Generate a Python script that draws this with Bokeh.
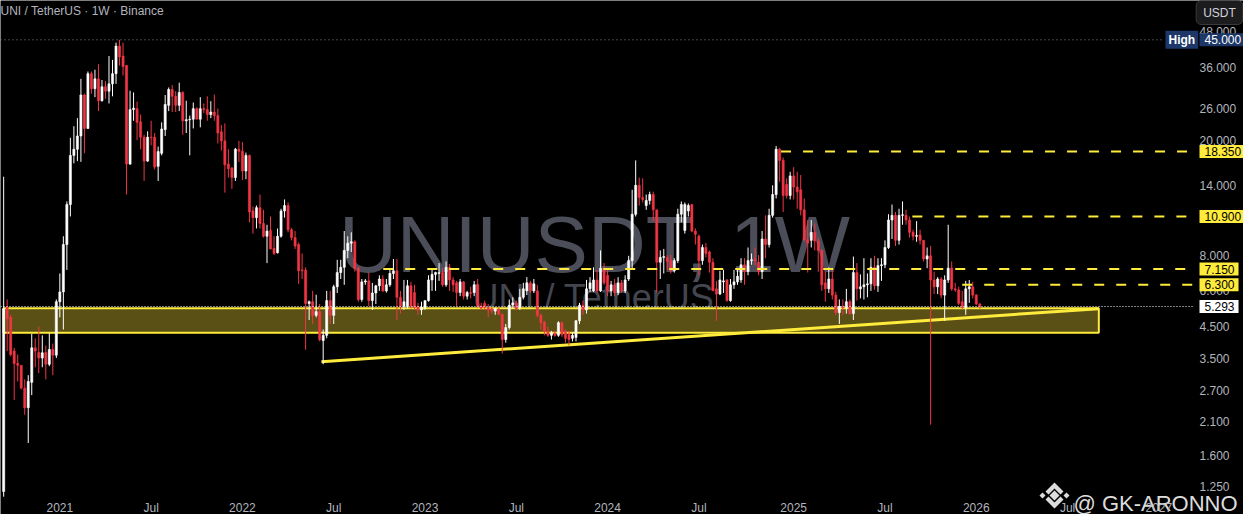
import math
from bokeh.plotting import figure
from bokeh.models import ColumnDataSource, Label, Range1d
from bokeh.embed import file_html
from bokeh.resources import INLINE
from bokeh.core.properties import value

# ---------------- data (weekly UNI/USDT, first bar = week of 2020-09-14) ----------------
open_ = [1.2, 5.25, 4.85, 3.7, 3.35, 3.3, 2.75, 2.35, 2.88, 3.8,
         3.66, 3.5, 3.66, 3.33, 3.75, 3.58, 5.5, 5.95, 8.7, 12.0,
         17.8, 18.7, 20.8, 28.9, 22.1, 34.3, 30.4, 32.9, 27.6, 30.9,
         29.8, 31.6, 34.3, 42.8, 39.5, 36.6, 16.6, 25.7, 25.9, 23.3,
         20.6, 17.0, 20.6, 20.6, 16.3, 18.1, 21.9, 26.6, 30.2, 28.6,
         26.6, 29.5, 23.5, 23.7, 23.8, 25.9, 23.8, 25.9, 25.7, 24.7,
         25.2, 24.5, 21.5, 20.0, 16.6, 16.1, 14.9, 18.7, 18.4, 15.7,
         17.8, 11.4, 10.8, 11.7, 10.3, 9.3, 9.75, 8.45, 8.15, 9.3,
         11.4, 11.9, 9.8, 9.2, 8.7, 7.1, 7.08, 5.42, 5.5, 4.93,
         5.08, 4.03, 4.2, 5.55, 4.93, 6.2, 6.95, 7.25, 8.3, 8.8,
         8.9, 7.2, 5.6, 6.45, 6.5, 5.55, 5.9, 6.25, 6.6, 6.0,
         6.3, 6.9, 7.05, 5.7, 5.3, 5.3, 6.25, 5.92, 5.3, 5.15,
         5.25, 5.55, 6.55, 6.85, 6.9, 6.95, 6.3, 7.25, 6.55, 6.4,
         5.92, 6.45, 5.75, 5.92, 5.92, 6.3, 5.3, 5.43, 5.25, 5.2,
         5.1, 5.18, 4.97, 4.06, 4.47, 5.35, 5.45, 5.25, 5.7, 6.0,
         6.4, 6.0, 6.0, 4.93, 4.67, 4.35, 4.2, 4.28, 4.2, 4.65,
         4.35, 4.23, 4.1, 4.13, 4.72, 5.35, 5.15, 6.1, 6.0, 6.55,
         6.0, 7.2, 6.8, 6.0, 6.3, 5.92, 6.4, 6.0, 6.6, 7.65,
         11.1, 14.0, 12.7, 11.9, 12.4, 13.0, 11.5, 7.55, 7.85, 7.85,
         7.65, 7.05, 7.65, 11.1, 9.75, 11.4, 12.0, 9.7, 9.3, 7.65,
         8.5, 8.2, 7.55, 6.1, 5.85, 6.45, 6.55, 5.55, 6.3, 6.45,
         6.55, 7.4, 7.0, 7.65, 7.75, 7.55, 7.0, 9.1, 8.7, 11.0,
         13.0, 18.7, 17.1, 14.1, 12.9, 15.1, 13.8, 13.5, 11.5, 9.05,
         9.0, 9.6, 8.95, 8.3, 6.4, 6.1, 6.6, 5.8, 5.04, 5.3,
         5.25, 5.5, 5.0, 6.95, 6.1, 6.2, 6.3, 6.35, 7.25, 6.25,
         7.35, 7.4, 8.5, 10.6, 11.0, 9.0, 11.0, 11.0, 10.6, 9.6,
         9.3, 9.4, 9.0, 7.75, 7.95, 6.55, 6.2, 6.6, 5.8, 6.55,
         7.2, 6.1, 6.05, 5.5, 5.25, 6.1, 6.2, 5.8, 5.4]

high = [15.0, 5.6, 4.95, 3.8, 3.6, 3.3, 2.95, 3.05, 4.25, 4.1,
        4.5, 4.2, 3.87, 4.27, 3.93, 5.6, 6.9, 9.3, 12.3, 20.5,
        22.5, 24.0, 32.9, 29.2, 34.9, 34.9, 35.4, 37.0, 32.6, 32.3,
        39.5, 38.3, 44.0, 45.0, 44.0, 36.8, 29.9, 29.5, 27.4, 24.7,
        21.0, 21.6, 23.5, 21.3, 19.1, 23.2, 28.9, 30.7, 31.3, 29.8,
        31.9, 29.8, 27.6, 24.5, 27.2, 26.2, 28.4, 27.0, 28.6, 27.5,
        29.0, 25.9, 22.7, 23.0, 18.7, 16.2, 18.9, 20.0, 19.8, 18.2,
        17.9, 11.8, 11.9, 13.0, 11.5, 10.2, 10.9, 9.3, 9.9, 11.6,
        12.5, 12.2, 9.95, 9.7, 8.84, 8.1, 7.25, 5.55, 6.0, 5.82,
        5.4, 4.4, 6.0, 6.0, 6.3, 7.7, 7.7, 9.7, 9.3, 9.6,
        9.0, 7.3, 6.6, 6.6, 6.95, 6.4, 6.3, 6.8, 6.8, 6.6,
        7.1, 7.75, 7.75, 6.0, 6.55, 6.55, 6.45, 6.3, 5.45, 5.5,
        5.55, 6.8, 7.2, 7.0, 7.5, 7.2, 7.6, 7.45, 6.7, 6.5,
        6.6, 6.5, 6.0, 6.2, 6.5, 6.6, 5.45, 5.55, 5.4, 5.25,
        5.25, 5.25, 5.0, 4.6, 5.6, 5.7, 5.55, 6.1, 6.4, 6.7,
        6.5, 6.6, 6.3, 5.0, 4.72, 4.5, 4.35, 4.35, 4.7, 4.7,
        4.4, 4.35, 4.3, 4.75, 5.45, 5.55, 6.55, 6.7, 7.25, 7.1,
        8.3, 7.5, 7.2, 6.5, 6.6, 6.7, 6.55, 6.8, 7.95, 13.5,
        17.1, 14.9, 14.8, 13.0, 13.3, 13.3, 11.5, 8.3, 8.4, 8.0,
        8.0, 7.8, 11.6, 12.3, 12.2, 12.1, 12.0, 9.9, 9.45, 8.7,
        8.8, 8.3, 7.8, 6.5, 7.05, 7.1, 6.6, 6.6, 7.1, 7.2,
        7.8, 7.8, 8.5, 8.1, 8.5, 8.0, 9.7, 11.0, 11.6, 14.0,
        19.2, 18.9, 17.5, 14.8, 15.6, 16.2, 15.6, 15.2, 12.6, 10.6,
        10.6, 10.3, 9.2, 8.4, 7.0, 7.25, 7.1, 5.95, 5.6, 5.6,
        6.1, 5.6, 7.9, 7.5, 6.85, 7.8, 6.9, 7.8, 7.95, 7.8,
        7.8, 9.0, 11.1, 12.0, 11.3, 11.6, 12.3, 11.5, 10.9, 9.8,
        10.5, 9.8, 9.0, 8.5, 8.6, 7.0, 6.7, 6.7, 6.8, 10.2,
        7.6, 6.4, 6.2, 6.0, 6.5, 6.55, 6.45, 5.85, 5.45]

low = [1.15, 3.7, 3.55, 2.5, 2.9, 2.72, 2.22, 1.77, 2.6, 3.25,
       3.1, 3.25, 2.95, 3.28, 3.05, 3.5, 4.85, 4.4, 7.1, 10.9,
       16.7, 17.0, 16.9, 18.1, 22.0, 29.2, 28.4, 25.4, 27.4, 28.0,
       27.0, 28.6, 31.6, 36.6, 33.8, 13.0, 16.5, 23.5, 20.1, 18.7,
       14.5, 16.9, 19.3, 15.9, 14.5, 17.8, 20.8, 25.4, 25.2, 25.2,
       25.4, 21.0, 21.3, 17.8, 22.1, 23.8, 22.3, 25.0, 23.5, 24.0,
       23.5, 19.6, 18.5, 13.2, 14.9, 13.6, 14.5, 16.9, 14.6, 14.7,
       10.4, 9.5, 9.9, 9.9, 9.2, 7.5, 8.4, 8.0, 8.1, 9.2,
       10.8, 9.6, 9.0, 8.4, 6.35, 6.6, 3.74, 4.75, 4.6, 4.85,
       4.0, 3.33, 4.1, 4.6, 4.6, 5.9, 6.6, 6.3, 7.8, 8.2,
       7.0, 5.5, 5.5, 6.3, 5.3, 5.15, 5.4, 6.0, 5.95, 5.92,
       6.2, 6.6, 4.75, 5.0, 5.15, 5.2, 5.2, 5.15, 4.95, 4.95,
       5.15, 5.5, 6.0, 6.0, 6.5, 6.2, 6.2, 6.0, 5.95, 5.3,
       5.75, 5.6, 5.6, 5.65, 5.75, 5.25, 5.15, 5.15, 4.85, 5.0,
       4.95, 4.95, 3.63, 3.96, 4.4, 5.2, 5.15, 5.15, 5.6, 5.8,
       5.9, 5.9, 4.85, 4.4, 4.2, 4.15, 4.06, 4.15, 4.15, 4.15,
       3.96, 3.87, 4.0, 4.0, 4.6, 4.95, 5.0, 5.95, 5.95, 5.9,
       5.95, 6.3, 5.75, 5.75, 5.75, 5.8, 5.9, 5.9, 6.5, 7.2,
       10.9, 11.9, 12.2, 11.5, 12.0, 10.5, 5.92, 6.6, 6.9, 7.1,
       6.9, 6.95, 7.5, 10.4, 9.5, 10.9, 9.6, 8.7, 6.8, 7.4,
       7.85, 6.95, 6.0, 4.72, 5.8, 5.9, 5.5, 5.5, 6.1, 6.3,
       6.4, 6.3, 6.8, 7.4, 7.35, 6.8, 6.6, 7.8, 8.5, 10.8,
       12.6, 14.4, 11.3, 12.6, 12.5, 12.5, 11.6, 11.0, 8.95, 6.95,
       8.5, 8.3, 7.0, 6.0, 5.5, 5.9, 5.6, 4.95, 4.6, 4.95,
       5.0, 4.95, 4.75, 5.55, 5.65, 5.6, 5.7, 6.0, 6.05, 5.95,
       6.5, 7.2, 8.4, 9.1, 8.6, 8.7, 10.2, 10.2, 9.2, 9.0,
       8.9, 8.7, 7.6, 7.2, 2.05, 5.85, 5.85, 5.65, 4.72, 6.4,
       6.0, 5.95, 5.35, 5.2, 4.95, 5.45, 5.65, 5.35, 5.2]

close = [5.2, 4.8, 3.6, 3.35, 3.3, 2.75, 2.35, 2.9, 3.8, 3.7,
         3.5, 3.65, 3.33, 3.75, 3.58, 5.5, 5.95, 8.7, 12.0, 17.8,
         18.7, 20.8, 28.9, 22.1, 34.3, 30.4, 32.9, 27.6, 30.9, 29.8,
         31.6, 34.3, 42.8, 39.2, 36.3, 16.6, 25.7, 26.0, 23.2, 20.6,
         17.0, 20.6, 20.5, 16.2, 18.35, 22.0, 26.8, 30.2, 28.6, 26.6,
         29.5, 23.5, 23.7, 23.8, 25.9, 23.8, 25.9, 25.7, 24.7, 25.2,
         24.5, 21.3, 20.0, 16.5, 16.0, 14.9, 18.7, 18.4, 15.7, 17.8,
         11.3, 10.8, 11.7, 10.3, 9.3, 9.7, 8.4, 8.1, 9.3, 11.4,
         11.9, 9.8, 9.2, 8.6, 7.05, 7.05, 5.42, 5.5, 4.93, 5.08,
         4.06, 4.2, 5.55, 4.93, 6.2, 6.95, 7.25, 8.3, 8.8, 8.9,
         7.2, 5.6, 6.45, 6.5, 5.55, 5.9, 6.25, 6.6, 6.0, 6.3,
         6.9, 7.05, 5.7, 5.3, 5.5, 6.25, 5.3, 5.25, 5.15, 5.27,
         5.55, 6.55, 6.85, 6.95, 6.95, 6.3, 7.25, 6.55, 6.3, 5.92,
         6.45, 5.75, 5.92, 5.88, 6.3, 5.3, 5.22, 5.25, 5.15, 5.1,
         5.2, 4.97, 4.06, 4.47, 5.35, 5.45, 5.2, 5.7, 6.1, 6.4,
         6.0, 6.35, 4.93, 4.65, 4.33, 4.2, 4.28, 4.2, 4.65, 4.23,
         4.1, 4.06, 4.2, 4.72, 5.35, 5.15, 6.1, 6.4, 6.55, 6.0,
         7.2, 6.4, 6.0, 6.3, 5.92, 6.4, 6.0, 6.55, 7.65, 11.1,
         14.0, 12.7, 12.5, 12.4, 13.0, 11.5, 7.55, 7.85, 7.9, 7.6,
         7.05, 7.65, 11.1, 12.0, 12.0, 11.9, 9.7, 9.45, 7.65, 8.5,
         8.1, 7.55, 6.0, 5.85, 6.55, 6.5, 5.55, 6.3, 6.45, 6.75,
         7.4, 7.0, 7.65, 7.7, 7.65, 7.0, 9.1, 8.7, 11.0, 13.0,
         18.7, 17.1, 12.9, 12.9, 15.1, 13.8, 13.3, 11.5, 9.05, 8.8,
         9.6, 8.95, 8.3, 6.3, 6.1, 6.6, 5.8, 5.04, 5.3, 5.25,
         5.5, 5.0, 6.95, 6.1, 6.2, 6.3, 6.35, 7.25, 6.25, 7.35,
         7.4, 8.5, 10.6, 11.0, 9.0, 11.0, 11.05, 10.6, 9.6, 9.3,
         9.35, 9.0, 7.75, 7.95, 6.55, 6.2, 6.6, 5.8, 6.55, 7.2,
         6.1, 6.05, 5.43, 5.25, 6.1, 6.2, 5.8, 5.4, 5.293]

week_index = list(range(len(close)))

# time axis (bar index of each label)
x_tick_pos = [16, 42, 68, 94, 120, 146, 172, 198, 225, 251, 277, 303, 329]
x_tick_lab = ["2021", "Jul", "2022", "Jul", "2023", "Jul", "2024", "Jul",
              "2025", "Jul", "2026", "Jul", "2027"]
# price scale
y_ticks = [1.25, 1.6, 2.1, 2.7, 3.5, 4.5, 6.0, 8.0, 11.0, 14.0, 20.0, 26.0, 36.0, 48.0]

# drawings
level_prices = [18.35, 10.9, 7.15, 6.3]
level_start = [221.4, 258.8, 108.1, 273.0]
zone_left, zone_right = -0.05, 311.9
zone_top, zone_bottom = 5.22, 4.29
trend_x = [90.5, 311.9]
trend_y = [3.40, 5.20]
all_time_high = 45.0
last_price = 5.293

# ---------------- geometry (canvas px <-> data) ----------------
W, H = 1243, 514
PANE_RIGHT_PX = 1193          # right edge of the candle pane
PX_PER_BAR = 3.523 * PANE_RIGHT_PX / 1197
PX_PER_LN = 124.6
X0 = -0.9
X1 = X0 + W / PX_PER_BAR
Y1 = 61.7
Y0 = Y1 * math.exp(-H / PX_PER_LN)


def px_x(px):
    return X0 + px / PX_PER_BAR


def px_y(py):
    return Y1 * math.exp(-py / PX_PER_LN)


PANE_X1 = px_x(PANE_RIGHT_PX)

p = figure(width=W, height=H, x_range=Range1d(X0, X1), y_range=Range1d(Y0, Y1),
           y_axis_type="log", x_axis_location=None, y_axis_location=None,
           output_backend="svg", toolbar_location=None,
           background_fill_color="#000000", border_fill_color="#000000",
           outline_line_color=None, min_border=0)
p.grid.visible = False

# watermark
p.text(x=[95.5], y=[8.72], text=["UNIUSDT, 1W"], text_font=value("Liberation Sans"),
       text_font_size="80px", text_color="#4b4e58", text_baseline="alphabetic", text_align="left")
p.text(x=[133.5], y=[5.69], text=["UNI / TetherUS"], text_font=value("Liberation Sans"),
       text_font_size="36px", text_color="#43464f", text_baseline="alphabetic", text_align="left")

# zone + trend line
p.quad(left=[zone_left], right=[zone_right], top=[zone_top], bottom=[zone_bottom],
       fill_color="#5a5016", fill_alpha=1.0, line_color="#ffeb3b", line_width=2)
p.line(trend_x, trend_y, line_color="#ffeb3b", line_width=3)

# candles
tops = [max(o, c) for o, c in zip(open_, close)]
bottoms = [min(o, c) for o, c in zip(open_, close)]
colors = ["#ffffff" if c >= o else "#f23645" for o, c in zip(open_, close)]
src = ColumnDataSource(dict(x=week_index, high=high, low=low, top=tops, bottom=bottoms, color=colors))
p.segment(x0="x", y0="high", x1="x", y1="low", line_color="color", line_width=1, source=src)
p.vbar(x="x", width=0.6, top="top", bottom="bottom", fill_color="color", line_color="color",
       line_width=0.6, source=src)

# dashed levels
p.segment(x0=level_start, y0=level_prices, x1=[PANE_X1] * len(level_prices), y1=level_prices,
          line_color="#ffeb3b", line_width=2, line_dash="10 12")
# high / last price dotted lines
p.segment(x0=[X0], y0=[all_time_high], x1=[px_x(PANE_RIGHT_PX - 32)], y1=[all_time_high],
          line_color="#8a8d96", line_dash="1 3", line_width=1)
p.segment(x0=[X0], y0=[last_price], x1=[PANE_X1], y1=[last_price],
          line_color="#ffffff", line_dash="1 2", line_width=1)

# signature watermark (drawn below the scale labels, as in the reference)
p.text(x=[px_x(1073)], y=[px_y(503)], text=["@ GK-ARONNO"], text_font=value("Liberation Sans"),
       text_font_size="22px", text_color="#dcdcdc", text_baseline="alphabetic", text_align="left")
cx, cy = 1054, 495
shapes = [
    [(0, -5), (5, 0), (0, 5), (-5, 0)],
    [(-12, -3), (-9, 0), (-12, 3), (-15, 0)],
    [(12, -3), (15, 0), (12, 3), (9, 0)],
    [(-9, -4), (0, -13), (9, -4), (6, -1), (0, -7), (-6, -1)],
    [(-9, 4), (0, 13), (9, 4), (6, 1), (0, 7), (-6, 1)],
]
p.patches(xs=[[px_x(cx + dx) for dx, dy in shp] for shp in shapes],
          ys=[[px_y(cy + dy) for dx, dy in shp] for shp in shapes],
          fill_color="#dcdcdc", line_color=None)

# price scale labels
p.text(x=[px_x(PANE_RIGHT_PX + 6)] * len(y_ticks), y=y_ticks, text=[f"{t:.3f}" for t in y_ticks],
       text_font=value("Liberation Sans"), text_font_size="12px", text_color="#b2b5be",
       text_baseline="middle", text_align="left")
# time scale labels
p.text(x=x_tick_pos, y=[px_y(507)] * len(x_tick_pos), text=x_tick_lab,
       text_font=value("Liberation Sans"), text_font_size="12px", text_color="#b2b5be",
       text_baseline="middle", text_align="center")

# price tags
tag_prices = level_prices + [last_price]
tag_bg = ["#ffeb3b"] * len(level_prices) + ["#ffffff"]
for price, bg in zip(tag_prices, tag_bg):
    p.add_layout(Label(x=PANE_X1, y=price, x_offset=6, text=f"{price:.3f}", text_align="left",
                       text_baseline="middle", text_font="Liberation Sans", text_font_size="12px",
                       text_color="#000000", background_fill_color=bg,
                       padding=dict(left=5, right=4, top=2, bottom=2)))

p.add_layout(Label(x=PANE_X1, y=all_time_high, x_offset=-28, text="High", text_align="left",
                   text_baseline="middle", text_font="Liberation Sans", text_font_size="12px",
                   text_font_style="bold", text_color="#ffffff", background_fill_color="#1d3868",
                   padding=dict(left=3, right=3, top=2, bottom=2)))
p.add_layout(Label(x=PANE_X1, y=all_time_high, x_offset=6, text=f"{all_time_high:.3f}",
                   text_align="left", text_baseline="middle", text_font="Liberation Sans",
                   text_font_size="12px", text_color="#ffffff", background_fill_color="#1d3868",
                   padding=dict(left=5, right=4, top=2, bottom=2)))

# header texts
p.add_layout(Label(x=px_x(0), y=px_y(10), text="UNI / TetherUS · 1W · Binance", text_align="left",
                   text_baseline="middle", text_font="Liberation Sans", text_font_size="12px",
                   text_color="#b2b5be"))
p.add_layout(Label(x=px_x(1219), y=px_y(12), text="USDT", text_align="center",
                   text_baseline="middle", text_font="Liberation Sans", text_font_size="12px",
                   text_color="#d1d4dc", background_fill_color="#1c1c1f",
                   border_line_color="#3a3a3e", border_line_width=1, border_radius=5,
                   padding=dict(left=7, right=7, top=5, bottom=5)))

open("out.html", "w").write(file_html(p, INLINE, title="UNIUSDT 1W"))
